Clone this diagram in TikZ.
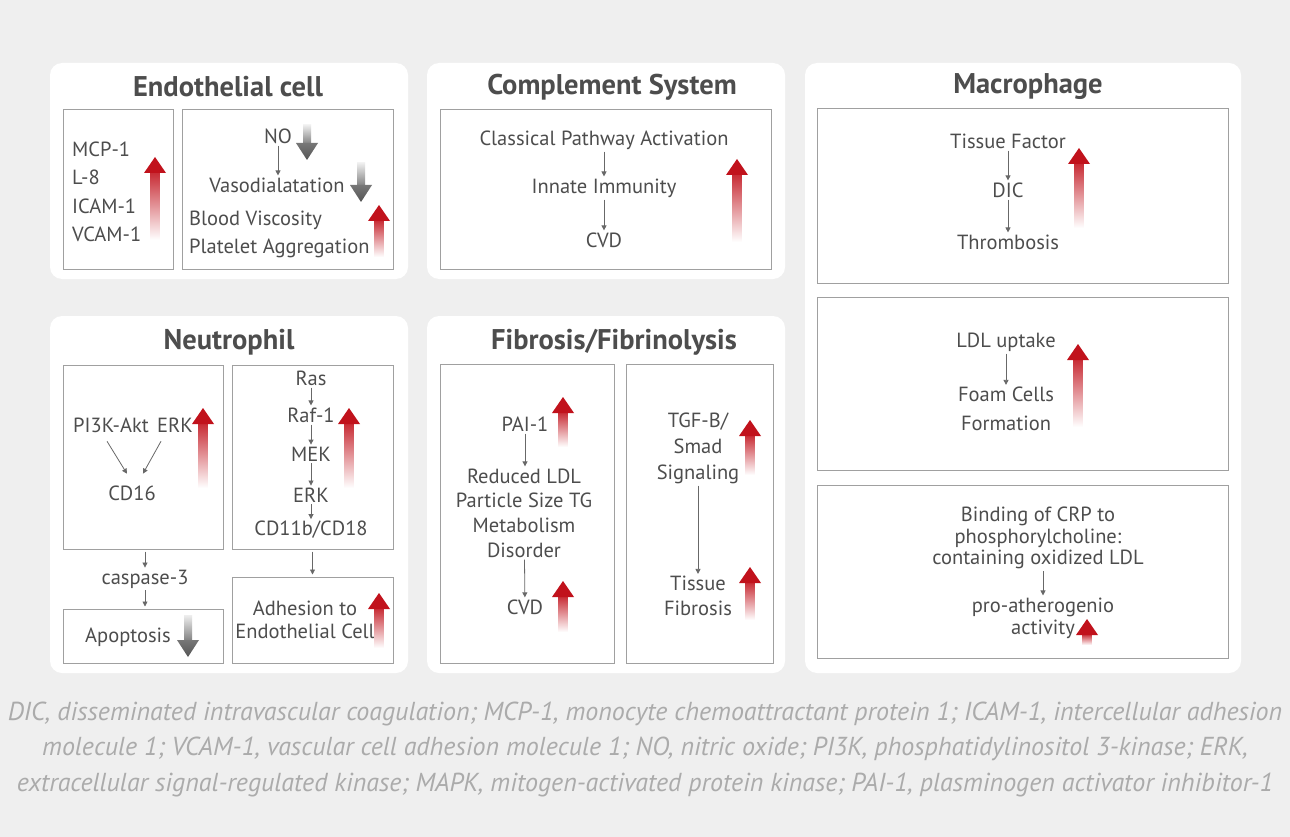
\documentclass[tikz,border=0pt]{standalone}
\usepackage{fontspec}
\setmainfont{PT Sans}
\usepackage{tikz}
\usetikzlibrary{positioning, arrows.meta, fit}

\definecolor{bggray}{HTML}{EFEFEF}
\definecolor{txtgray}{HTML}{4D4D4D}
\definecolor{boxgray}{HTML}{A0A0A0}
\definecolor{uprd}{HTML}{C1121C}
\definecolor{dngray}{HTML}{555555}
\definecolor{notegray}{HTML}{ABABAB}

\tikzset{
  panel/.style={fill=white, rounded corners=12pt},
  inbox/.style={draw=boxgray, line width=1pt, inner sep=0pt},
  ttl/.style={font=\bfseries\fontsize{28.5}{32}\selectfont, text=txtgray, inner sep=0pt},
  txt/.style={font=\fontsize{20.5}{#1}\selectfont, text=txtgray, inner sep=0pt, align=center},
  txt/.default=24,
  flow/.style={draw=txtgray!85, line width=0.8pt, shorten <=2pt, shorten >=2pt,
    -{Triangle[length=5pt,width=5pt]}},
  note/.style={font=\itshape\fontsize{26}{35.5}\selectfont, text=notegray, align=center, inner sep=0pt}
}

% red arrow going up: x, tip y, bottom y
\newcommand{\upmark}[3]{%
  \shade[top color=uprd!90, bottom color=white] (#1-4.5,#2+15) rectangle (#1+4.5,#3);
  \fill[uprd] (#1-11,#2+16) -- (#1,#2) -- (#1+11,#2+16) -- cycle;}
% gray arrow going down: x, top y, tip y
\newcommand{\downmark}[3]{%
  \shade[top color=white!90!dngray, bottom color=dngray!75] (#1-4,#2) rectangle (#1+4,#3-16);
  \shade[top color=dngray!80, bottom color=dngray] (#1-11,#3-17) -- (#1,#3) -- (#1+11,#3-17) -- cycle;}

\begin{document}
\begin{tikzpicture}[x=1pt, y=-1pt]
\useasboundingbox (0,0) rectangle (1290,837);
\fill[bggray] (0,0) rectangle (1290,837);

% Endothelial cell
\fill[panel] (50,63) rectangle (408,279);
\node[ttl] (endoT) at (228,87) {Endothelial cell};
\node[inbox, fit={(63,110) (173,269)}] (endoL) {};
\node[inbox, fit={(182,110) (393,269)}] (endoR) {};
\node[txt=28.5, align=left, anchor=west] (adhmol) at (72,192) {MCP-1\\L-8\\ICAM-1\\VCAM-1};
\upmark{155}{157}{240}
\node[txt] (no) at (278,136) {NO};
\node[txt] (vaso) at (277,185) {Vasodialatation};
\draw[flow] (no) -- (no |- vaso.north);
\downmark{307}{125}{160}
\downmark{361}{163}{202}
\node[txt=28, align=left, anchor=west] (blood) at (189,234) {Blood Viscosity\\Platelet Aggregation};
\upmark{379}{205}{257}

% Complement System
\fill[panel] (427,63) rectangle (785,279);
\node[ttl] (compT) at (612,87) {Complement System};
\node[inbox, fit={(440,110) (771,269)}] (compB) {};
\node[txt] (cpa) at (604,140) {Classical Pathway Activation};
\node[txt] (innate) at (604,188) {Innate Immunity};
\node[txt] (cvdA) at (604,240) {CVD};
\draw[flow] (cpa) -- (innate);
\draw[flow] (innate) -- (cvdA);
\upmark{737}{159}{242}

% Macrophage
\fill[panel] (805,63) rectangle (1241,673);
\node[ttl] (macT) at (1028,87) {Macrophage};
\node[inbox, fit={(817,109) (1228,283)}] (macA) {};
\node[inbox, fit={(817,297) (1228,470)}] (macB) {};
\node[inbox, fit={(817,485) (1228,658)}] (macC) {};
\node[txt] (tf) at (1008,141) {Tissue Factor};
\node[txt] (dic) at (1008,190) {DIC};
\node[txt] (thromb) at (1008,242) {Thrombosis};
\draw[flow] (tf) -- (dic);
\draw[flow] (dic) -- (thromb);
\upmark{1079}{148}{228}
\node[txt] (ldl) at (1006,342) {LDL uptake};
\node[txt=29] (foam) at (1006,409) {Foam Cells\\Formation};
\draw[flow] (ldl) -- (foam);
\upmark{1078}{344}{427}
\node[txt=21.5] (crp) at (1038,538) {Binding of CRP to\\phosphorylcholine:\\containing oxidized LDL};
\node[txt=22] (proath) at (1043,618) {pro-atherogenio\\activity};
\draw[flow] (crp.south -| proath.north) -- (proath.north);
\upmark{1087}{619}{645}

% Neutrophil
\fill[panel] (50,316) rectangle (408,673);
\node[ttl] (neuT) at (229,342) {Neutrophil};
\node[inbox, fit={(63,365) (223,549)}] (neuL) {};
\node[inbox, fit={(232,365) (393,549)}] (neuR) {};
\node[inbox, fit={(63,609) (223,663)}] (neuAp) {};
\node[inbox, fit={(232,577) (393,663)}] (neuAd) {};
\node[txt] (pik) at (111,425) {PI3K-Akt};
\node[txt] (erkA) at (175,425) {ERK};
\node[txt] (cd16) at (132,493) {CD16};
\draw[flow] ([shift={(-5,7)}]pik.south) -- ([shift={(-4,-10)}]cd16.north);
\draw[flow] ([shift={(-13,7)}]erkA.south) -- ([shift={(10,-10)}]cd16.north);
\upmark{203}{408}{488}
\node[txt] (ras) at (311,378) {Ras};
\node[txt] (raf) at (311,415) {Raf-1};
\node[txt] (mek) at (311,454) {MEK};
\node[txt] (erkB) at (311,495) {ERK};
\node[txt] (cd11) at (311,530) {CD11b/CD18};
\foreach \a/\b in {ras/raf, raf/mek, mek/erkB, erkB/cd11}
  \draw[flow] (\a) -- (\b);
\upmark{349}{408}{488}
\node[txt] (casp) at (145,579) {caspase-3};
\draw[flow] (neuL.south -| casp) -- (casp);
\draw[flow] (casp) -- (casp |- neuAp.north);
\node[txt] (apop) at (128,637) {Apoptosis};
\downmark{188}{615}{657}
\draw[flow] (neuR.south) -- (neuAd.north);
\node[txt=23] (adh) at (305,620) {Adhesion to\\Endothelial Cell};
\upmark{379}{593}{648}

% Fibrosis/Fibrinolysis
\fill[panel] (427,316) rectangle (785,673);
\node[ttl] (fibT) at (614,342) {Fibrosis/Fibrinolysis};
\node[inbox, fit={(440,364) (614,663)}] (fibL) {};
\node[inbox, fit={(626,364) (773,663)}] (fibR) {};
\node[txt] (pai) at (525,424) {PAI-1};
\upmark{563}{397}{447}
\node[txt=24.7] (redldl) at (524,513) {Reduced LDL\\Particle Size TG\\Metabolism\\Disorder};
\node[txt] (cvdB) at (525,607) {CVD};
\draw[flow] (pai) -- (pai |- redldl.north);
\draw[flow] (redldl) -- (cvdB);
\upmark{563}{581}{632}
\node[txt=26] (tgf) at (698,448) {TGF-B/\\Smad\\Signaling};
\node[txt=25] (tfib) at (698,596) {Tissue\\Fibrosis};
\draw[flow] (tgf) -- (tfib);
\upmark{750}{420}{475}
\upmark{750}{567}{620}

% abbreviations
\node[note] (legend) at (645,749) {DIC, disseminated intravascular coagulation; MCP-1, monocyte chemoattractant protein 1; ICAM-1, intercellular adhesion\\molecule 1; VCAM-1, vascular cell adhesion molecule 1; NO, nitric oxide; PI3K, phosphatidylinositol 3-kinase; ERK,\\extracellular signal-regulated kinase; MAPK, mitogen-activated protein kinase; PAI-1, plasminogen activator inhibitor-1};
\end{tikzpicture}
\end{document}
